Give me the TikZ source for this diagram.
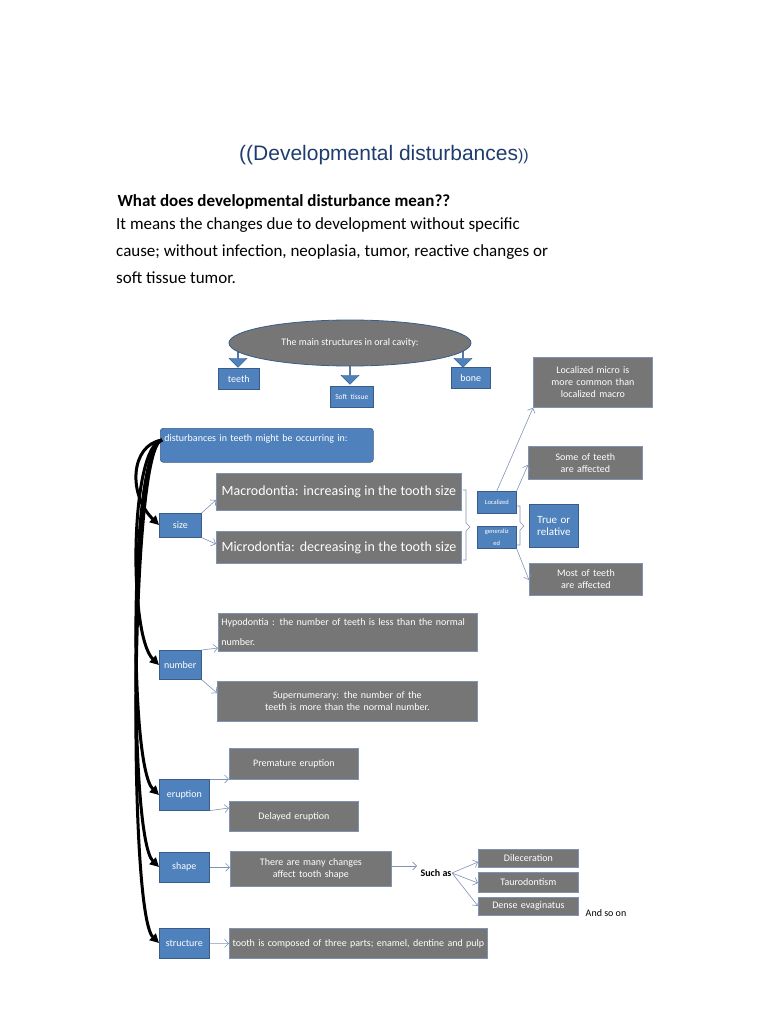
\documentclass[tikz,border=0pt]{standalone}
\usepackage{fontspec}
\setmainfont{Carlito}
\newfontfamily\titlefont{Liberation Sans}
\usetikzlibrary{arrows.meta,shapes.geometric,shapes.arrows,decorations.pathreplacing}
\definecolor{gbox}{HTML}{767676}
\definecolor{bbox}{HTML}{4F81BD}
\definecolor{bedge}{HTML}{385D8A}
\definecolor{ttl}{HTML}{1F3C6E}
\definecolor{conn}{HTML}{7F93B5}
\tikzset{
 gb/.style={draw=conn,line width=0.8pt,fill=gbox,text=white,inner sep=2pt,align=center,font=\fontsize{10}{12}\selectfont},
 bb/.style={draw=bedge,line width=0.6pt,fill=bbox,text=white,inner sep=1pt,align=center,font=\fontsize{10}{12}\selectfont},
 thin/.style={conn,line width=0.6pt,-{Straight Barb[length=4pt]}},
 fat/.style={black,line width=3pt,-{Triangle[length=9pt,width=9pt]}},
 dnarrow/.style={single arrow,shape border rotate=270,fill=bbox,draw=bedge,minimum width=18pt,single arrow head extend=3pt,minimum height=22pt,inner sep=0pt},
}
\newcommand{\bx}[6]{\pgfmathsetmacro\bxw{#4-#2}\pgfmathsetmacro\bxh{#5-#3}\pgfmathsetmacro\bxt{#4-#2-6}%
\node[#1,minimum width=\bxw pt,minimum height=\bxh pt,anchor=north west,text width=\bxt pt] (#6) at (#2,#3)}
\begin{document}
\begin{tikzpicture}[x=1pt,y=-1pt]
\useasboundingbox (0,0) rectangle (768,1024);
\node[text=ttl,font=\titlefont\fontsize{21}{24}\selectfont] (title) at (384,155) {((Developmental disturbances{\fontsize{16}{18}\selectfont))}};
\node[anchor=west,font=\bfseries\fontsize{17}{20}\selectfont] (q) at (114,202) {What does developmental disturbance mean??};
\node[anchor=north west,font=\fontsize{17}{27}\selectfont,align=left,inner sep=0pt] (a) at (116,217) {It means the changes due to development without specific\\cause; without infection, neoplasia, tumor, reactive changes or\\soft tissue tumor.};
% top
\node[dnarrow] (ar1) at (238,356) {};
\node[dnarrow] (ar2) at (350,373) {};
\node[dnarrow] (ar3) at (463,356) {};
\node[ellipse,fill=gbox,draw=bedge,line width=0.8pt,minimum width=242,minimum height=46,text=white,font=\fontsize{10}{12}\selectfont] (ell) at (350,343) {The main structures in oral cavity:};
\bx{bb}{218}{368}{259}{389}{teeth} {teeth};
\bx{bb}{330}{386}{373}{407}{soft} {\fontsize{7.5}{9}\selectfont Soft tissue};
\bx{bb}{451}{367}{490}{388}{bone} {bone};
\bx{gb}{533}{357}{652}{407}{micro} {Localized micro is more common than localized macro};
\node[bb,rounded corners=3pt,minimum width=213,minimum height=34,anchor=north west,text width=205,align=left,text depth=14pt] (dist) at (160,428) {disturbances in teeth might be occurring in:};
\bx{gb}{216}{473}{461}{510}{macro} {\fontsize{14}{16}\selectfont Macrodontia: increasing in the tooth size};
\bx{bb}{159}{513}{201}{537}{size} {size};
\bx{gb}{216}{531}{461}{563}{microd} {\fontsize{14}{16}\selectfont Microdontia: decreasing in the tooth size};
\bx{bb}{477}{491}{516}{513}{loc} {\fontsize{6.5}{8}\selectfont Localized};
\bx{bb}{477}{526}{516}{548}{gen} {\fontsize{6.5}{8}\selectfont generaliz\\ed};
\bx{gb}{528}{446}{642}{479}{some} {Some of teeth are affected};
\bx{bb}{529}{504}{578}{547}{true} {\fontsize{11}{15}\selectfont True or relative};
\bx{gb}{529}{563}{642}{595}{most} {Most of teeth are affected};
\node[gb,minimum width=259,minimum height=38,anchor=north west,text width=253,align=left,font=\fontsize{10}{20}\selectfont] (hypo) at (218,613) {Hypodontia : the number of teeth is less than the normal number.};
\bx{bb}{159}{650}{201}{679}{number} {number};
\bx{gb}{217}{681}{477}{721}{super} {Supernumerary: the number of the teeth is more than the normal number.};
\bx{gb}{229}{748}{358}{779}{prem} {Premature eruption};
\bx{bb}{159}{779}{209}{810}{erupt} {eruption};
\bx{gb}{229}{801}{358}{831}{delay} {Delayed eruption};
\bx{bb}{159}{852}{209}{882}{shape} {shape};
\bx{gb}{230}{851}{391}{886}{many} {There are many changes affect tooth shape};
\node[font=\bfseries\fontsize{10}{12}\selectfont] (such) at (436,873) {Such as};
\bx{gb}{478}{849}{578}{867}{dil} {Dileceration};
\bx{gb}{478}{872}{578}{892}{tau} {Taurodontism};
\bx{gb}{478}{897}{578}{915}{dense} {Dense evaginatus};
\node[font=\fontsize{10}{12}\selectfont] (so) at (606,913) {And so on};
\bx{bb}{159}{928}{209}{958}{struct} {structure};
\bx{gb}{229}{928}{487}{958}{comp} {tooth is composed of three parts; enamel, dentine and pulp};
% thin connectors
\draw[thin] (size.north east) -- (macro.south west|-0,500);
\draw[thin] (size.south east) -- (microd.north west|-0,544);
\draw[thin] (number.north east) -- (hypo.south west|-0,648);
\draw[thin] (number.south east) -- (super.north west|-0,693);
\draw[thin] (erupt.north east) -- (prem.south west|-0,779);
\draw[thin] (erupt.south east) -- (delay.north west|-0,808);
\draw[thin] (shape.east) -- (many.west|-shape.east);
\draw[thin] (struct.east) -- (comp.west);
\draw[thin] (many.east|-0,866) -- (such.west|-0,866);
\coordinate (sp) at (452,873);
\draw[thin] (sp) -- (dil.south west|-0,862);
\draw[thin] (sp) -- (tau.west|-0,883);
\draw[thin] (sp) -- (dense.west|-0,906);
\draw[thin] (loc.north) -- (micro.south west);
\draw[thin] (loc.north east) -- (some.south west|-0,465);
\draw[thin] (gen.south east) -- (most.north west|-0,580);
% braces
\draw[conn,line width=0.6pt] (463,490) -- (466,490) -- (466,523) -- (470,527) -- (466,531) -- (466,560) -- (463,560);
\draw[conn,line width=0.6pt] (517,506) -- (520,506) -- (520,522) -- (524,526) -- (520,530) -- (520,545) -- (517,545);
% fat arrows
\foreach \t/\y in {size/525,number/665,erupt/795,shape/867,struct/943}{
 \draw[fat] (162,440) .. controls (130,445) and (128,\y-30) .. (\t.west|-0,\y);
}
\end{tikzpicture}
\end{document}
